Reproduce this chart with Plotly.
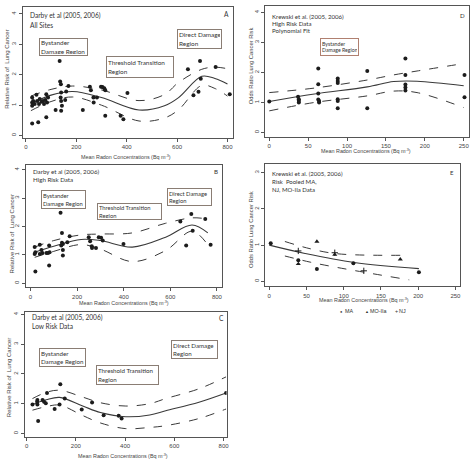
import plotly.graph_objects as go

W = H = 474

# ---------------- Data ----------------
# Panel A: Darby et al (2005, 2006) - All Sites
a_x = [25, 25, 25, 25, 29, 35, 42, 45, 49, 52, 55, 62, 68, 72, 77, 81, 84, 81, 88,
       118, 134, 136, 139, 140, 138, 140, 143, 140, 156, 160, 169, 226, 254, 258,
       268, 269, 282, 298, 304, 311, 315, 315, 376, 387, 403, 643, 665, 685, 691,
       694, 753, 809]
a_y = [1.25, 0.40, 1.09, 0.98, 1.14, 1.04, 1.34, 1.14, 0.44, 1.04, 1.20, 1.11, 1.14,
       1.04, 1.17, 1.36, 1.09, 0.60, 1.25, 0.84, 2.45, 1.78, 1.69, 1.42, 1.25, 1.14,
       0.98, 0.82, 1.17, 1.45, 1.63, 0.84, 1.61, 1.49, 1.25, 1.09, 1.25, 1.61, 1.60,
       1.56, 1.49, 0.65, 0.65, 0.54, 1.40, 2.18, 1.33, 1.44, 2.45, 1.87, 2.26, 1.36]
a_fit_x = [20, 100, 186, 300, 449, 550, 606, 698, 750, 800]
a_fit = [1.05, 1.33, 1.45, 1.25, 0.84, 0.98, 1.25, 1.95, 1.88, 1.70]
a_upper = [1.30, 1.52, 1.63, 1.50, 1.15, 1.35, 1.75, 2.18, 2.25, 2.20]
a_lower = [0.82, 1.12, 1.27, 1.00, 0.48, 0.58, 0.85, 1.65, 1.55, 1.30]

# Panel B: High Risk Data
b_x = [18, 21, 18, 21, 40, 40, 47, 51, 68, 75, 80, 80, 82, 129, 135, 135, 132, 139,
       139, 139, 158, 168, 250, 256, 263, 264, 281, 293, 303, 310, 399, 643, 668,
       690, 696, 750, 773]
b_y = [1.27, 1.09, 1.03, 0.41, 1.35, 1.03, 1.17, 1.06, 1.06, 1.06, 1.33, 0.62, 1.09,
       2.48, 1.77, 1.42, 1.33, 1.38, 1.17, 0.97, 1.44, 1.65, 1.62, 1.48, 1.30, 1.24,
       1.24, 1.62, 1.60, 1.50, 1.38, 2.17, 1.33, 2.44, 1.85, 2.26, 1.35]
b_fit_x = [18, 100, 217, 300, 437, 580, 693, 761]
b_fit = [1.09, 1.30, 1.54, 1.50, 1.27, 1.62, 2.05, 1.77]
b_upper = [1.27, 1.50, 1.70, 1.73, 1.77, 2.11, 2.30, 2.26]
b_lower = [0.91, 1.12, 1.36, 1.20, 0.76, 1.15, 1.83, 1.35]

# Panel C: Low Risk Data
c_x = [24, 43, 44, 44, 47, 65, 71, 78, 83, 114, 137, 134, 155, 224, 266, 313, 374, 386, 810]
c_y = [0.97, 1.06, 1.12, 0.97, 0.42, 1.12, 1.06, 1.01, 1.36, 0.82, 1.65, 0.97, 1.17,
       0.80, 1.04, 0.61, 0.59, 0.50, 1.36]
c_fit_x = [24, 80, 134, 228, 300, 403, 500, 565, 700, 810]
c_fit = [0.97, 1.13, 1.21, 0.92, 0.70, 0.56, 0.62, 0.76, 1.05, 1.36]
c_upper = [1.17, 1.38, 1.45, 1.22, 1.03, 0.92, 1.00, 1.17, 1.50, 1.90]
c_lower = [0.78, 0.90, 0.95, 0.60, 0.35, 0.16, 0.20, 0.26, 0.50, 0.82]

# Panel D: Krewski et al. High Risk Data, polynomial fit
d_x = [0, 37, 38, 38, 38, 63, 63, 63, 63, 64, 64, 88, 88, 88, 88, 88, 88, 126, 126,
       175, 175, 175, 175, 175, 251, 251]
d_y = [1.03, 1.19, 1.11, 1.06, 1.00, 2.13, 1.61, 1.30, 1.10, 1.05, 1.00, 1.80, 1.72,
       1.65, 1.11, 1.05, 0.81, 2.05, 0.81, 2.47, 1.92, 1.60, 1.50, 1.40, 1.92, 1.17]
d_fit_x = [0, 58, 126, 160, 190, 250]
d_fit = [1.03, 1.28, 1.52, 1.70, 1.71, 1.56]
d_upper = [1.33, 1.48, 1.75, 1.92, 2.05, 2.30]
d_lower = [0.72, 1.00, 1.22, 1.38, 1.33, 0.83]

# Panel E: Krewski et al. pooled MA, NJ, MO-IIa
e_ma_x = [2, 39, 64, 113, 201]
e_ma_y = [1.05, 0.58, 0.34, 0.50, 0.25]
e_mo_x = [39, 64, 88, 176]
e_mo_y = [0.48, 1.10, 0.74, 0.61]
e_nj_x = [39, 88, 127]
e_nj_y = [0.84, 0.79, 0.29]
e_fit_x = [0, 48, 114, 201]
e_fit = [1.00, 0.77, 0.52, 0.35]
e_band_x = [21, 55, 92, 188]
e_upper = [1.10, 0.90, 0.76, 0.72]
e_lower = [0.70, 0.53, 0.38, 0.04]

radon_ticks_long = [0, 200, 400, 600, 800]
radon_ticks_short = [0, 50, 100, 150, 200, 250]
risk_ticks4 = [0, 1, 2, 3, 4]
risk_ticks3 = [0, 1, 2, 3]

# ---------------- Styling ----------------
PT = '#1c1c1c'
LN = '#3a3a3a'
AX = '#555555'
NARROW = 'Liberation Sans Narrow, Liberation Sans, Arial'
TICKFONT = dict(family=NARROW, size=6, color='#444')
TXTFAM = 'Lato, Open Sans, sans-serif'
LBLFONT = dict(family=NARROW, size=5.4, color='#444')

fig = go.Figure()


def add_panel(idx, px, py, fx, fy, fu, fl, bx=None):
    xa = 'x' if idx == 1 else f'x{idx}'
    ya = 'y' if idx == 1 else f'y{idx}'
    bxv = fx if bx is None else bx
    for band in (fu, fl):
        fig.add_trace(go.Scatter(x=bxv, y=band, mode='lines', xaxis=xa, yaxis=ya,
                                 line=dict(color=LN, width=1, dash='dash', shape='spline'),
                                 showlegend=False, hoverinfo='skip'))
    fig.add_trace(go.Scatter(x=fx, y=fy, mode='lines', xaxis=xa, yaxis=ya,
                             line=dict(color=LN, width=1.1, shape='spline'),
                             showlegend=False, hoverinfo='skip'))
    if px is not None:
        fig.add_trace(go.Scatter(x=px, y=py, mode='markers', xaxis=xa, yaxis=ya,
                                 marker=dict(color=PT, size=4),
                                 showlegend=False))


add_panel(1, a_x, a_y, a_fit_x, a_fit, a_upper, a_lower)
add_panel(2, b_x, b_y, b_fit_x, b_fit, b_upper, b_lower)
add_panel(3, c_x, c_y, c_fit_x, c_fit, c_upper, c_lower)
add_panel(4, d_x, d_y, d_fit_x, d_fit, d_upper, d_lower)
add_panel(5, None, None, e_fit_x, e_fit, e_upper, e_lower, bx=e_band_x)
fig.add_trace(go.Scatter(x=e_ma_x, y=e_ma_y, mode='markers', xaxis='x5', yaxis='y5',
                         marker=dict(color=PT, size=4, symbol='circle'), name='MA',
                         showlegend=False))
fig.add_trace(go.Scatter(x=e_mo_x, y=e_mo_y, mode='markers', xaxis='x5', yaxis='y5',
                         marker=dict(color=PT, size=4.5, symbol='triangle-up'), name='MO-IIa',
                         showlegend=False))
fig.add_trace(go.Scatter(x=e_nj_x, y=e_nj_y, mode='markers', xaxis='x5', yaxis='y5',
                         marker=dict(color=PT, size=4.5, symbol='cross-thin',
                                     line=dict(color=PT, width=1)), name='NJ',
                         showlegend=False))


def dom_x(a, b):
    return [a / W, b / W]


def dom_y(top, bottom):
    return [1 - bottom / H, 1 - top / H]


def axis(domain, rng, ticks, anchor, ytype=False):
    d = dict(domain=domain, range=rng, tickvals=ticks, anchor=anchor,
             showline=True, mirror=True, linecolor=AX, linewidth=1,
             ticks='outside', ticklen=3, tickcolor=AX, tickwidth=1,
             showgrid=False, zeroline=False, tickfont=TICKFONT)
    if ytype:
        d['tickangle'] = -90
    return d


fig.update_layout(
    xaxis=axis(dom_x(23, 234), [-12, 820], radon_ticks_long, 'y'),
    yaxis=axis(dom_y(6, 137), [-0.07, 4.23], risk_ticks4, 'x', True),
    xaxis2=axis(dom_x(26, 223), [-20, 820], radon_ticks_long, 'y2'),
    yaxis2=axis(dom_y(164, 287), [-0.15, 4.175], risk_ticks4, 'x2', True),
    xaxis3=axis(dom_x(25, 228), [-7, 812], radon_ticks_long, 'y3'),
    yaxis3=axis(dom_y(312, 437), [-0.124, 4.07], risk_ticks4, 'x3', True),
    xaxis4=axis(dom_x(267, 472), [-5.1, 256.8], radon_ticks_short, 'y4'),
    yaxis4=axis(dom_y(5, 136), [-0.143, 4.22], risk_ticks4, 'x4', True),
    xaxis5=axis(dom_x(267, 463), [-5.3, 256.3], radon_ticks_short, 'y5'),
    yaxis5=axis(dom_y(163, 286), [-0.14, 3.25], risk_ticks3, 'x5', True),
)

anns = []


def txt(text, x, y, xanchor='left', size=6.6, fam=TXTFAM):
    anns.append(dict(text=text, x=x / W, y=1 - y / H, xref='paper', yref='paper',
                     showarrow=False, xanchor=xanchor, yanchor='middle',
                     font=dict(family=fam, size=size, color='#333')))


def box(text, x0, x1, y0, y1, size=6.3, color='#8a7d74'):
    pad = 1
    anns.append(dict(text=text, x=x0 / W, y=1 - y0 / H, xref='paper', yref='paper',
                     showarrow=False, xanchor='left', yanchor='top',
                     width=x1 - x0 - 2 * pad - 2, height=y1 - y0 - 2 * pad - 2,
                     align='left', valign='middle', bordercolor=color, borderwidth=1,
                     borderpad=pad, bgcolor='white',
                     font=dict(family=TXTFAM, size=size, color='#333')))


def lbl(text, x, y, angle=0, size=5.4):
    anns.append(dict(text=text, x=x / W, y=1 - y / H, xref='paper', yref='paper',
                     showarrow=False, xanchor='center', yanchor='middle',
                     textangle=angle, font=dict(family=NARROW, size=size, color='#444')))


XT = 'Mean Radon Concentrations (Bq m<sup>-3</sup>)'
RR = 'Relative Risk of  Lung Cancer'
OR = 'Odds Ratio Lung Cancer Risk'

# Panel A
txt('Darby et al (2005, 2006)', 28, 15)
txt('All Sites', 28, 24)
txt('A', 228, 13, 'center')
box('Bystander<br>Damage Region', 39, 88, 37, 55, 6.4)
box('Threshold Transition<br>Region', 107, 175, 55, 77, 6.4)
box('Direct Damage<br>Region', 178, 223, 28, 48, 6.4)
lbl(XT, 127, 156)
lbl(RR, 7, 68, -90, 6)

# Panel B
txt('Darby et al (2005, 2006)', 31, 171, size=6.2)
txt('High Risk Data', 31, 179, size=6.2)
txt('B', 217, 171, 'center', size=6.2)
box('Bystander<br>Damage Region', 41, 86, 189, 208, 5.8)
box('Threshold Transition<br>Region', 98, 163, 202, 219, 5.8)
box('Direct Damage<br>Region', 168, 213, 187, 205, 5.8)
lbl(XT, 125, 302.5)
lbl(RR, 12, 233, -90, 6)

# Panel C
txt('Darby et al (2005, 2006)', 30, 317)
txt('Low Risk Data', 30, 326)
txt('C', 223, 318, 'center')
box('Bystander<br>Damage Region', 39, 86, 348, 367, 6.2)
box('Threshold Transition<br>Region', 97, 160, 365, 385, 6.2)
box('Direct Damage<br>Region', 172, 219, 340, 359, 6.2)
lbl(XT, 124, 456)
lbl(RR, 9, 377, -90, 6)

# Panel D
txt('Krewski et al. (2005, 2006)', 272, 16, size=6.1)
txt('High Risk Data', 272, 23, size=6.1)
txt('Polynomial Fit', 272, 30, size=6.1)
txt('D', 465, 15, 'center', size=6.1)
box('Bystander<br>Damage Region', 322, 361, 37, 55, 5.2, color='#b08070')
lbl(XT, 368, 150)
lbl(OR, 252, 65, -90, 5.8)

# Panel E
txt('Krewski et al. (2005, 2006)', 272, 173, size=6)
txt('Risk  Pooled MA,', 272, 181, size=6)
txt('NJ, MO-IIa Data', 272, 189, size=6)
txt('E', 455, 172, 'center', size=6)
lbl(XT, 366, 300)
lbl(OR, 252, 229, -90, 5.8)

# Panel E key
txt('\u25cf', 340, 311, size=4, fam=NARROW)
txt('MA', 345, 311, size=5.4, fam=NARROW)
txt('\u25b2', 365, 311, size=4, fam=NARROW)
txt('MO-IIa', 370, 311, size=5.4, fam=NARROW)
txt('+', 396, 311, size=5.4, fam=NARROW)
txt('NJ', 400, 311, size=5.4, fam=NARROW)

fig.update_layout(
    annotations=anns,
    width=W, height=H,
    margin=dict(l=0, r=0, t=0, b=0),
    paper_bgcolor='white', plot_bgcolor='white',
    showlegend=False,
)

fig.write_html('out.html')
